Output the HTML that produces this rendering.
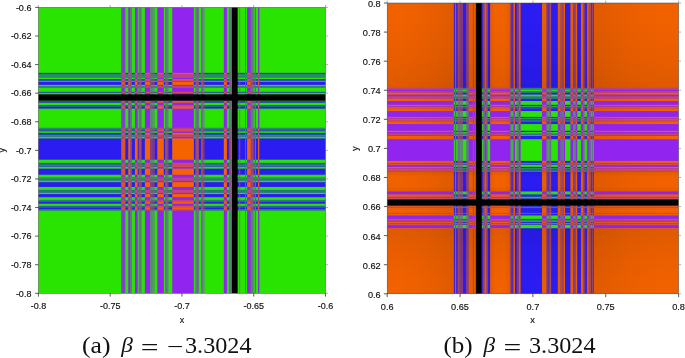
<!DOCTYPE html>
<html><head><meta charset="utf-8"><title>figure</title>
<style>html,body{margin:0;padding:0;background:#fff}body{width:685px;height:358px;overflow:hidden}svg{display:block}</style>
</head><body>
<svg width="685" height="358" viewBox="0 0 685 358">
<rect width="685" height="358" fill="#fff"/>
<g shape-rendering="crispEdges">
<g>
<rect x="38" y="7" width="83" height="287" fill="#28e400"/>
<rect x="121" y="7" width="1" height="287" fill="#7061a3"/>
<rect x="122" y="7" width="3" height="287" fill="#8241cc"/>
<rect x="125" y="7" width="1" height="287" fill="#43b33d"/>
<rect x="126" y="7" width="2" height="287" fill="#28e400"/>
<rect x="128" y="7" width="1" height="287" fill="#725ea8"/>
<rect x="129" y="7" width="1" height="287" fill="#9224f0"/>
<rect x="130" y="7" width="1" height="287" fill="#687190"/>
<rect x="131" y="7" width="1" height="287" fill="#617c82"/>
<rect x="132" y="7" width="2" height="287" fill="#28e400"/>
<rect x="134" y="7" width="1" height="287" fill="#33d118"/>
<rect x="135" y="7" width="2" height="287" fill="#9224f0"/>
<rect x="137" y="7" width="1" height="287" fill="#725ea8"/>
<rect x="138" y="7" width="1" height="287" fill="#3bc12b"/>
<rect x="139" y="7" width="2" height="287" fill="#687190"/>
<rect x="141" y="7" width="1" height="287" fill="#4e9f56"/>
<rect x="142" y="7" width="2" height="287" fill="#28e400"/>
<rect x="144" y="7" width="1" height="287" fill="#38c724"/>
<rect x="145" y="7" width="5" height="287" fill="#9224f0"/>
<rect x="150" y="7" width="1" height="287" fill="#588e6c"/>
<rect x="151" y="7" width="1" height="287" fill="#5d8478"/>
<rect x="152" y="7" width="1" height="287" fill="#539562"/>
<rect x="153" y="7" width="1" height="287" fill="#4da154"/>
<rect x="154" y="7" width="1" height="287" fill="#49a84c"/>
<rect x="155" y="7" width="2" height="287" fill="#28e400"/>
<rect x="157" y="7" width="1" height="287" fill="#725ea8"/>
<rect x="158" y="7" width="5" height="287" fill="#9224f0"/>
<rect x="163" y="7" width="1" height="287" fill="#8241cc"/>
<rect x="164" y="7" width="1" height="287" fill="#28e400"/>
<rect x="165" y="7" width="1" height="287" fill="#637886"/>
<rect x="166" y="7" width="1" height="287" fill="#6a6d95"/>
<rect x="167" y="7" width="1" height="287" fill="#5d8478"/>
<rect x="168" y="7" width="1" height="287" fill="#42b43c"/>
<rect x="169" y="7" width="3" height="287" fill="#28e400"/>
<rect x="172" y="7" width="1" height="287" fill="#7d4ac0"/>
<rect x="173" y="7" width="20" height="287" fill="#9224f0"/>
<rect x="193" y="7" width="1" height="287" fill="#8737d8"/>
<rect x="194" y="7" width="1" height="287" fill="#28e400"/>
<rect x="195" y="7" width="1" height="287" fill="#559365"/>
<rect x="196" y="7" width="1" height="287" fill="#687190"/>
<rect x="197" y="7" width="1" height="287" fill="#7160a6"/>
<rect x="198" y="7" width="1" height="287" fill="#617c82"/>
<rect x="199" y="7" width="2" height="287" fill="#28e400"/>
<rect x="201" y="7" width="2" height="287" fill="#687190"/>
<rect x="203" y="7" width="1" height="287" fill="#48aa48"/>
<rect x="204" y="7" width="1" height="287" fill="#41b63a"/>
<rect x="205" y="7" width="18" height="287" fill="#28e400"/>
<rect x="223" y="7" width="1" height="287" fill="#3dbe30"/>
<rect x="224" y="7" width="2" height="287" fill="#9224f0"/>
<rect x="226" y="7" width="1" height="287" fill="#8737d8"/>
<rect x="227" y="7" width="1" height="287" fill="#28e400"/>
<rect x="228" y="7" width="1" height="287" fill="#2ed90d"/>
<rect x="229" y="7" width="1" height="287" fill="#627a84"/>
<rect x="230" y="7" width="1" height="287" fill="#687190"/>
<rect x="231" y="7" width="1" height="287" fill="#7d4ac0"/>
<rect x="232" y="7" width="5" height="287" fill="#000000"/>
<rect x="237" y="7" width="1" height="287" fill="#0e5000"/>
<rect x="238" y="7" width="1" height="287" fill="#28e400"/>
<rect x="239" y="7" width="1" height="287" fill="#57906a"/>
<rect x="240" y="7" width="1" height="287" fill="#34cf1a"/>
<rect x="241" y="7" width="4" height="287" fill="#28e400"/>
<rect x="245" y="7" width="1" height="287" fill="#687190"/>
<rect x="246" y="7" width="1" height="287" fill="#28e400"/>
<rect x="247" y="7" width="1" height="287" fill="#8737d8"/>
<rect x="248" y="7" width="2" height="287" fill="#9224f0"/>
<rect x="250" y="7" width="1" height="287" fill="#7b4dbc"/>
<rect x="251" y="7" width="2" height="287" fill="#627a84"/>
<rect x="253" y="7" width="1" height="287" fill="#57906a"/>
<rect x="254" y="7" width="1" height="287" fill="#37c922"/>
<rect x="255" y="7" width="1" height="287" fill="#725ea8"/>
<rect x="256" y="7" width="2" height="287" fill="#28e400"/>
<rect x="258" y="7" width="1" height="287" fill="#8d2ee4"/>
<rect x="259" y="7" width="1" height="287" fill="#46ad44"/>
<rect x="260" y="7" width="66" height="287" fill="#28e400"/>
</g>
<mask id="m1" maskUnits="userSpaceOnUse" x="38" y="7" width="288" height="287">
<rect x="38" y="72" width="288" height="1" fill="#fff" fill-opacity="0.135"/>
<rect x="38" y="73" width="288" height="1" fill="#fff" fill-opacity="0.9"/>
<rect x="38" y="74" width="288" height="1" fill="#fff" fill-opacity="0.472"/>
<rect x="38" y="75" width="288" height="2" fill="#fff" fill-opacity="0.45"/>
<rect x="38" y="77" width="288" height="1" fill="#fff" fill-opacity="0.382"/>
<rect x="38" y="79" width="288" height="1" fill="#fff" fill-opacity="0.8"/>
<rect x="38" y="80" width="288" height="1" fill="#fff" fill-opacity="0.702"/>
<rect x="38" y="81" width="288" height="1" fill="#fff" fill-opacity="0.192"/>
<rect x="38" y="82" width="288" height="2" fill="#fff" fill-opacity="1.0"/>
<rect x="38" y="84" width="288" height="1" fill="#fff" fill-opacity="0.9"/>
<rect x="38" y="86" width="288" height="1" fill="#fff" fill-opacity="0.475"/>
<rect x="38" y="87" width="288" height="1" fill="#fff" fill-opacity="0.425"/>
<rect x="38" y="91" width="288" height="1" fill="#fff" fill-opacity="0.14"/>
<rect x="38" y="92" width="288" height="1" fill="#fff" fill-opacity="0.7"/>
<rect x="38" y="93" width="288" height="1" fill="#fff" fill-opacity="0.035"/>
<rect x="38" y="100" width="288" height="1" fill="#fff" fill-opacity="0.24"/>
<rect x="38" y="101" width="288" height="1" fill="#fff" fill-opacity="0.8"/>
<rect x="38" y="102" width="288" height="1" fill="#fff" fill-opacity="0.68"/>
<rect x="38" y="105" width="288" height="1" fill="#fff" fill-opacity="0.65"/>
<rect x="38" y="106" width="288" height="1" fill="#fff" fill-opacity="0.685"/>
<rect x="38" y="107" width="288" height="1" fill="#fff" fill-opacity="1.0"/>
<rect x="38" y="108" width="288" height="1" fill="#fff" fill-opacity="0.6"/>
<rect x="38" y="127" width="288" height="1" fill="#fff" fill-opacity="0.135"/>
<rect x="38" y="128" width="288" height="1" fill="#fff" fill-opacity="0.45"/>
<rect x="38" y="129" width="288" height="1" fill="#fff" fill-opacity="0.625"/>
<rect x="38" y="130" width="288" height="1" fill="#fff" fill-opacity="0.685"/>
<rect x="38" y="131" width="288" height="1" fill="#fff" fill-opacity="0.3"/>
<rect x="38" y="132" width="288" height="1" fill="#fff" fill-opacity="0.1"/>
<rect x="38" y="133" width="288" height="1" fill="#fff" fill-opacity="1.0"/>
<rect x="38" y="134" width="288" height="1" fill="#fff" fill-opacity="0.79"/>
<rect x="38" y="135" width="288" height="1" fill="#fff" fill-opacity="0.405"/>
<rect x="38" y="136" width="288" height="1" fill="#fff" fill-opacity="0.488"/>
<rect x="38" y="138" width="288" height="1" fill="#fff" fill-opacity="0.6"/>
<rect x="38" y="139" width="288" height="20" fill="#fff" fill-opacity="1.0"/>
<rect x="38" y="159" width="288" height="1" fill="#fff" fill-opacity="0.7"/>
<rect x="38" y="162" width="288" height="1" fill="#fff" fill-opacity="0.13"/>
<rect x="38" y="163" width="288" height="1" fill="#fff" fill-opacity="0.65"/>
<rect x="38" y="164" width="288" height="1" fill="#fff" fill-opacity="0.59"/>
<rect x="38" y="165" width="288" height="1" fill="#fff" fill-opacity="0.5"/>
<rect x="38" y="166" width="288" height="1" fill="#fff" fill-opacity="0.64"/>
<rect x="38" y="168" width="288" height="1" fill="#fff" fill-opacity="0.35"/>
<rect x="38" y="169" width="288" height="5" fill="#fff" fill-opacity="1.0"/>
<rect x="38" y="174" width="288" height="1" fill="#fff" fill-opacity="0.75"/>
<rect x="38" y="177" width="288" height="1" fill="#fff" fill-opacity="0.293"/>
<rect x="38" y="178" width="288" height="1" fill="#fff" fill-opacity="0.45"/>
<rect x="38" y="179" width="288" height="1" fill="#fff" fill-opacity="0.5"/>
<rect x="38" y="180" width="288" height="1" fill="#fff" fill-opacity="0.423"/>
<rect x="38" y="182" width="288" height="1" fill="#fff" fill-opacity="0.85"/>
<rect x="38" y="183" width="288" height="3" fill="#fff" fill-opacity="1.0"/>
<rect x="38" y="186" width="288" height="1" fill="#fff" fill-opacity="0.95"/>
<rect x="38" y="189" width="288" height="1" fill="#fff" fill-opacity="0.055"/>
<rect x="38" y="190" width="288" height="2" fill="#fff" fill-opacity="0.55"/>
<rect x="38" y="192" width="288" height="1" fill="#fff" fill-opacity="0.467"/>
<rect x="38" y="194" width="288" height="1" fill="#fff" fill-opacity="0.95"/>
<rect x="38" y="195" width="288" height="2" fill="#fff" fill-opacity="1.0"/>
<rect x="38" y="197" width="288" height="1" fill="#fff" fill-opacity="0.2"/>
<rect x="38" y="199" width="288" height="1" fill="#fff" fill-opacity="0.075"/>
<rect x="38" y="200" width="288" height="1" fill="#fff" fill-opacity="0.5"/>
<rect x="38" y="201" width="288" height="1" fill="#fff" fill-opacity="0.6"/>
<rect x="38" y="202" width="288" height="1" fill="#fff" fill-opacity="1.0"/>
<rect x="38" y="203" width="288" height="1" fill="#fff" fill-opacity="0.7"/>
<rect x="38" y="205" width="288" height="1" fill="#fff" fill-opacity="0.098"/>
<rect x="38" y="206" width="288" height="1" fill="#fff" fill-opacity="0.65"/>
<rect x="38" y="207" width="288" height="1" fill="#fff" fill-opacity="0.738"/>
<rect x="38" y="208" width="288" height="1" fill="#fff" fill-opacity="1.0"/>
<rect x="38" y="209" width="288" height="1" fill="#fff" fill-opacity="0.55"/>
<rect x="38" y="210" width="288" height="1" fill="#fff" fill-opacity="0.375"/>
</mask>
<g mask="url(#m1)">
<rect x="38" y="7" width="83" height="287" fill="#2b1cf2"/>
<rect x="121" y="7" width="1" height="287" fill="#b44c4d"/>
<rect x="122" y="7" width="3" height="287" fill="#d75824"/>
<rect x="125" y="7" width="1" height="287" fill="#5f2eb4"/>
<rect x="126" y="7" width="2" height="287" fill="#2b1cf2"/>
<rect x="128" y="7" width="1" height="287" fill="#b84e49"/>
<rect x="129" y="7" width="1" height="287" fill="#f56300"/>
<rect x="130" y="7" width="1" height="287" fill="#a44761"/>
<rect x="131" y="7" width="1" height="287" fill="#98426f"/>
<rect x="132" y="7" width="2" height="287" fill="#2b1cf2"/>
<rect x="134" y="7" width="1" height="287" fill="#3f23da"/>
<rect x="135" y="7" width="2" height="287" fill="#f56300"/>
<rect x="137" y="7" width="1" height="287" fill="#b84e49"/>
<rect x="138" y="7" width="1" height="287" fill="#4f29c6"/>
<rect x="139" y="7" width="2" height="287" fill="#a44761"/>
<rect x="141" y="7" width="1" height="287" fill="#74369b"/>
<rect x="142" y="7" width="2" height="287" fill="#2b1cf2"/>
<rect x="144" y="7" width="1" height="287" fill="#4927ce"/>
<rect x="145" y="7" width="5" height="287" fill="#f56300"/>
<rect x="150" y="7" width="1" height="287" fill="#863c85"/>
<rect x="151" y="7" width="1" height="287" fill="#904079"/>
<rect x="152" y="7" width="1" height="287" fill="#7e398f"/>
<rect x="153" y="7" width="1" height="287" fill="#72359d"/>
<rect x="154" y="7" width="1" height="287" fill="#6b32a6"/>
<rect x="155" y="7" width="2" height="287" fill="#2b1cf2"/>
<rect x="157" y="7" width="1" height="287" fill="#b84e49"/>
<rect x="158" y="7" width="5" height="287" fill="#f56300"/>
<rect x="163" y="7" width="1" height="287" fill="#d75824"/>
<rect x="164" y="7" width="1" height="287" fill="#2b1cf2"/>
<rect x="165" y="7" width="1" height="287" fill="#9c446a"/>
<rect x="166" y="7" width="1" height="287" fill="#a8485c"/>
<rect x="167" y="7" width="1" height="287" fill="#904079"/>
<rect x="168" y="7" width="1" height="287" fill="#5e2eb6"/>
<rect x="169" y="7" width="3" height="287" fill="#2b1cf2"/>
<rect x="172" y="7" width="1" height="287" fill="#cd5530"/>
<rect x="173" y="7" width="20" height="287" fill="#f56300"/>
<rect x="193" y="7" width="1" height="287" fill="#e15c18"/>
<rect x="194" y="7" width="1" height="287" fill="#2b1cf2"/>
<rect x="195" y="7" width="1" height="287" fill="#803a8c"/>
<rect x="196" y="7" width="1" height="287" fill="#a44761"/>
<rect x="197" y="7" width="1" height="287" fill="#b64d4b"/>
<rect x="198" y="7" width="1" height="287" fill="#98426f"/>
<rect x="199" y="7" width="2" height="287" fill="#2b1cf2"/>
<rect x="201" y="7" width="2" height="287" fill="#a44761"/>
<rect x="203" y="7" width="1" height="287" fill="#6831a9"/>
<rect x="204" y="7" width="1" height="287" fill="#5b2db8"/>
<rect x="205" y="7" width="18" height="287" fill="#2b1cf2"/>
<rect x="223" y="7" width="1" height="287" fill="#532ac2"/>
<rect x="224" y="7" width="2" height="287" fill="#f56300"/>
<rect x="226" y="7" width="1" height="287" fill="#e15c18"/>
<rect x="227" y="7" width="1" height="287" fill="#2b1cf2"/>
<rect x="228" y="7" width="1" height="287" fill="#3620e5"/>
<rect x="229" y="7" width="1" height="287" fill="#9a436d"/>
<rect x="230" y="7" width="1" height="287" fill="#a44761"/>
<rect x="231" y="7" width="1" height="287" fill="#cd5530"/>
<rect x="232" y="7" width="5" height="287" fill="#000000"/>
<rect x="237" y="7" width="1" height="287" fill="#0f0a55"/>
<rect x="238" y="7" width="1" height="287" fill="#2b1cf2"/>
<rect x="239" y="7" width="1" height="287" fill="#843b88"/>
<rect x="240" y="7" width="1" height="287" fill="#4124d7"/>
<rect x="241" y="7" width="4" height="287" fill="#2b1cf2"/>
<rect x="245" y="7" width="1" height="287" fill="#a44761"/>
<rect x="246" y="7" width="1" height="287" fill="#2b1cf2"/>
<rect x="247" y="7" width="1" height="287" fill="#e15c18"/>
<rect x="248" y="7" width="2" height="287" fill="#f56300"/>
<rect x="250" y="7" width="1" height="287" fill="#ca5434"/>
<rect x="251" y="7" width="2" height="287" fill="#9a436d"/>
<rect x="253" y="7" width="1" height="287" fill="#843b88"/>
<rect x="254" y="7" width="1" height="287" fill="#4726d0"/>
<rect x="255" y="7" width="1" height="287" fill="#b84e49"/>
<rect x="256" y="7" width="2" height="287" fill="#2b1cf2"/>
<rect x="258" y="7" width="1" height="287" fill="#eb5f0c"/>
<rect x="259" y="7" width="1" height="287" fill="#6530ad"/>
<rect x="260" y="7" width="66" height="287" fill="#2b1cf2"/>
</g>
<rect x="38" y="94" width="288" height="1" fill="#000" fill-opacity="0.65"/>
<rect x="38" y="95" width="288" height="5" fill="#000" fill-opacity="1.0"/>
<rect x="38" y="100" width="288" height="1" fill="#000" fill-opacity="0.65"/>
<rect x="38" y="7" width="1" height="287" fill="#fff" fill-opacity="0.4"/>
<rect x="325" y="7" width="1" height="287" fill="#fff" fill-opacity="0.5"/>
<rect x="38" y="7" width="288" height="1" fill="#fff" fill-opacity="0.4"/>
<rect x="38" y="293" width="288" height="1" fill="#fff" fill-opacity="0.7"/>
</g>
<g stroke="#222" stroke-width="0.75" fill="none">
<rect x="38.4" y="7.4" width="287.10" height="285.90" stroke="#444" stroke-width="0.5"/>
<path d="M38.40 293.3v3.3"/><path d="M38.40 7.4v-2.4" stroke="#777" stroke-width="0.6"/>
<path d="M110.18 293.3v3.3"/><path d="M110.18 7.4v-2.4" stroke="#777" stroke-width="0.6"/>
<path d="M181.95 293.3v3.3"/><path d="M181.95 7.4v-2.4" stroke="#777" stroke-width="0.6"/>
<path d="M253.72 293.3v3.3"/><path d="M253.72 7.4v-2.4" stroke="#777" stroke-width="0.6"/>
<path d="M325.50 293.3v3.3"/><path d="M325.50 7.4v-2.4" stroke="#777" stroke-width="0.6"/>
<path d="M38.4 7.40h-3.3"/><path d="M325.5 7.40h2.4" stroke="#777" stroke-width="0.6"/>
<path d="M38.4 35.99h-3.3"/><path d="M325.5 35.99h2.4" stroke="#777" stroke-width="0.6"/>
<path d="M38.4 64.58h-3.3"/><path d="M325.5 64.58h2.4" stroke="#777" stroke-width="0.6"/>
<path d="M38.4 93.17h-3.3"/><path d="M325.5 93.17h2.4" stroke="#777" stroke-width="0.6"/>
<path d="M38.4 121.76h-3.3"/><path d="M325.5 121.76h2.4" stroke="#777" stroke-width="0.6"/>
<path d="M38.4 150.35h-3.3"/><path d="M325.5 150.35h2.4" stroke="#777" stroke-width="0.6"/>
<path d="M38.4 178.94h-3.3"/><path d="M325.5 178.94h2.4" stroke="#777" stroke-width="0.6"/>
<path d="M38.4 207.53h-3.3"/><path d="M325.5 207.53h2.4" stroke="#777" stroke-width="0.6"/>
<path d="M38.4 236.12h-3.3"/><path d="M325.5 236.12h2.4" stroke="#777" stroke-width="0.6"/>
<path d="M38.4 264.71h-3.3"/><path d="M325.5 264.71h2.4" stroke="#777" stroke-width="0.6"/>
<path d="M38.4 293.30h-3.3"/><path d="M325.5 293.30h2.4" stroke="#777" stroke-width="0.6"/>
</g>
<g style="font-family:&quot;Liberation Sans&quot;,Arial,Helvetica,sans-serif" font-size="9.0" fill="#111" stroke="#111" stroke-width="0.15">
<text x="38.40" y="309.1" text-anchor="middle">-0.8</text>
<text x="110.18" y="309.1" text-anchor="middle">-0.75</text>
<text x="181.95" y="309.1" text-anchor="middle">-0.7</text>
<text x="253.72" y="309.1" text-anchor="middle">-0.65</text>
<text x="325.50" y="309.1" text-anchor="middle">-0.6</text>
<text x="31.4" y="10.62" text-anchor="end">-0.6</text>
<text x="31.4" y="39.21" text-anchor="end">-0.62</text>
<text x="31.4" y="67.80" text-anchor="end">-0.64</text>
<text x="31.4" y="96.39" text-anchor="end">-0.66</text>
<text x="31.4" y="124.98" text-anchor="end">-0.68</text>
<text x="31.4" y="153.57" text-anchor="end">-0.7</text>
<text x="31.4" y="182.16" text-anchor="end">-0.72</text>
<text x="31.4" y="210.75" text-anchor="end">-0.74</text>
<text x="31.4" y="239.34" text-anchor="end">-0.76</text>
<text x="31.4" y="267.93" text-anchor="end">-0.78</text>
<text x="31.4" y="296.52" text-anchor="end">-0.8</text>
<text x="182" y="322.9" text-anchor="middle">x</text>
<text transform="translate(5.4,150.3) rotate(-90)" text-anchor="middle">y</text>
</g>
<g shape-rendering="crispEdges">
<g>
<rect x="387" y="3" width="11" height="291" fill="#f16100"/>
<rect x="398" y="3" width="7" height="291" fill="#f06100"/>
<rect x="405" y="3" width="1" height="291" fill="#f06000"/>
<rect x="406" y="3" width="6" height="291" fill="#ef6000"/>
<rect x="412" y="3" width="5" height="291" fill="#ee6000"/>
<rect x="417" y="3" width="3" height="291" fill="#ed5f00"/>
<rect x="420" y="3" width="4" height="291" fill="#ec5f00"/>
<rect x="424" y="3" width="2" height="291" fill="#eb5f00"/>
<rect x="426" y="3" width="1" height="291" fill="#eb5e00"/>
<rect x="427" y="3" width="3" height="291" fill="#ea5e00"/>
<rect x="430" y="3" width="3" height="291" fill="#e95e00"/>
<rect x="433" y="3" width="2" height="291" fill="#e85d00"/>
<rect x="435" y="3" width="3" height="291" fill="#e75d00"/>
<rect x="438" y="3" width="2" height="291" fill="#e65d00"/>
<rect x="440" y="3" width="3" height="291" fill="#e55c00"/>
<rect x="443" y="3" width="2" height="291" fill="#e45c00"/>
<rect x="445" y="3" width="2" height="291" fill="#e35b00"/>
<rect x="447" y="3" width="2" height="291" fill="#e25b00"/>
<rect x="449" y="3" width="1" height="291" fill="#e15b00"/>
<rect x="450" y="3" width="1" height="291" fill="#e15a00"/>
<rect x="451" y="3" width="2" height="291" fill="#e05a00"/>
<rect x="453" y="3" width="1" height="291" fill="#c45124"/>
<rect x="454" y="3" width="1" height="291" fill="#3e23da"/>
<rect x="455" y="3" width="1" height="291" fill="#c95327"/>
<rect x="456" y="3" width="1" height="291" fill="#5129c2"/>
<rect x="457" y="3" width="1" height="291" fill="#622fac"/>
<rect x="458" y="3" width="1" height="291" fill="#a54655"/>
<rect x="459" y="3" width="1" height="291" fill="#964168"/>
<rect x="460" y="3" width="2" height="291" fill="#803985"/>
<rect x="462" y="3" width="1" height="291" fill="#823a83"/>
<rect x="463" y="3" width="3" height="291" fill="#2b1cf2"/>
<rect x="466" y="3" width="1" height="291" fill="#863c7d"/>
<rect x="467" y="3" width="1" height="291" fill="#93406d"/>
<rect x="468" y="3" width="1" height="291" fill="#a44657"/>
<rect x="469" y="3" width="3" height="291" fill="#e75d00"/>
<rect x="472" y="3" width="1" height="291" fill="#e05b0a"/>
<rect x="473" y="3" width="1" height="291" fill="#a44657"/>
<rect x="474" y="3" width="1" height="291" fill="#e75d00"/>
<rect x="475" y="3" width="1" height="291" fill="#ba4d3a"/>
<rect x="476" y="3" width="1" height="291" fill="#160901"/>
<rect x="477" y="3" width="4" height="291" fill="#000000"/>
<rect x="481" y="3" width="1" height="291" fill="#32150a"/>
<rect x="482" y="3" width="1" height="291" fill="#4726ce"/>
<rect x="483" y="3" width="1" height="291" fill="#8b3d77"/>
<rect x="484" y="3" width="1" height="291" fill="#ab484d"/>
<rect x="485" y="3" width="1" height="291" fill="#e75d00"/>
<rect x="486" y="3" width="1" height="291" fill="#ac494c"/>
<rect x="487" y="3" width="1" height="291" fill="#863c7d"/>
<rect x="488" y="3" width="2" height="291" fill="#2b1cf2"/>
<rect x="490" y="3" width="1" height="291" fill="#d15518"/>
<rect x="491" y="3" width="1" height="291" fill="#e75d00"/>
<rect x="492" y="3" width="1" height="291" fill="#ea5e00"/>
<rect x="493" y="3" width="1" height="291" fill="#ed5f00"/>
<rect x="494" y="3" width="1" height="291" fill="#ef6000"/>
<rect x="495" y="3" width="10" height="291" fill="#f16100"/>
<rect x="505" y="3" width="1" height="291" fill="#ef6000"/>
<rect x="506" y="3" width="1" height="291" fill="#ed5f00"/>
<rect x="507" y="3" width="1" height="291" fill="#eb5e00"/>
<rect x="508" y="3" width="1" height="291" fill="#e85d00"/>
<rect x="509" y="3" width="1" height="291" fill="#e45c00"/>
<rect x="510" y="3" width="1" height="291" fill="#9c4361"/>
<rect x="511" y="3" width="1" height="291" fill="#6731a5"/>
<rect x="512" y="3" width="1" height="291" fill="#5a2cb6"/>
<rect x="513" y="3" width="1" height="291" fill="#a1455b"/>
<rect x="514" y="3" width="1" height="291" fill="#e75d00"/>
<rect x="515" y="3" width="1" height="291" fill="#2b1cf2"/>
<rect x="516" y="3" width="1" height="291" fill="#4625cf"/>
<rect x="517" y="3" width="1" height="291" fill="#803985"/>
<rect x="518" y="3" width="1" height="291" fill="#8a3d78"/>
<rect x="519" y="3" width="1" height="291" fill="#e75d00"/>
<rect x="520" y="3" width="1" height="291" fill="#9c4361"/>
<rect x="521" y="3" width="21" height="291" fill="#2b1cf2"/>
<rect x="542" y="3" width="4" height="291" fill="#e75d00"/>
<rect x="546" y="3" width="1" height="291" fill="#a44657"/>
<rect x="547" y="3" width="1" height="291" fill="#743594"/>
<rect x="548" y="3" width="1" height="291" fill="#6430a9"/>
<rect x="549" y="3" width="1" height="291" fill="#7e3988"/>
<rect x="550" y="3" width="1" height="291" fill="#ac494c"/>
<rect x="551" y="3" width="1" height="291" fill="#3e23da"/>
<rect x="552" y="3" width="5" height="291" fill="#2b1cf2"/>
<rect x="557" y="3" width="1" height="291" fill="#5129c2"/>
<rect x="558" y="3" width="2" height="291" fill="#e75d00"/>
<rect x="560" y="3" width="1" height="291" fill="#b54c41"/>
<rect x="561" y="3" width="1" height="291" fill="#af4a49"/>
<rect x="562" y="3" width="1" height="291" fill="#9e445e"/>
<rect x="563" y="3" width="1" height="291" fill="#a44657"/>
<rect x="564" y="3" width="1" height="291" fill="#e75d00"/>
<rect x="565" y="3" width="5" height="291" fill="#2b1cf2"/>
<rect x="570" y="3" width="1" height="291" fill="#9c4361"/>
<rect x="571" y="3" width="2" height="291" fill="#e75d00"/>
<rect x="573" y="3" width="2" height="291" fill="#893d79"/>
<rect x="575" y="3" width="1" height="291" fill="#9c4361"/>
<rect x="576" y="3" width="1" height="291" fill="#e75d00"/>
<rect x="577" y="3" width="1" height="291" fill="#5129c2"/>
<rect x="578" y="3" width="2" height="291" fill="#2b1cf2"/>
<rect x="580" y="3" width="1" height="291" fill="#3e23da"/>
<rect x="581" y="3" width="2" height="291" fill="#e75d00"/>
<rect x="583" y="3" width="1" height="291" fill="#9c4361"/>
<rect x="584" y="3" width="1" height="291" fill="#733596"/>
<rect x="585" y="3" width="2" height="291" fill="#3e23da"/>
<rect x="587" y="3" width="1" height="291" fill="#d85813"/>
<rect x="588" y="3" width="1" height="291" fill="#d55718"/>
<rect x="589" y="3" width="1" height="291" fill="#ac494c"/>
<rect x="590" y="3" width="1" height="291" fill="#a44657"/>
<rect x="591" y="3" width="1" height="291" fill="#582cb8"/>
<rect x="592" y="3" width="1" height="291" fill="#964168"/>
<rect x="593" y="3" width="1" height="291" fill="#6430a9"/>
<rect x="594" y="3" width="1" height="291" fill="#df5a00"/>
<rect x="595" y="3" width="3" height="291" fill="#e05a00"/>
<rect x="598" y="3" width="1" height="291" fill="#e15a00"/>
<rect x="599" y="3" width="1" height="291" fill="#e15b00"/>
<rect x="600" y="3" width="3" height="291" fill="#e25b00"/>
<rect x="603" y="3" width="2" height="291" fill="#e35b00"/>
<rect x="605" y="3" width="3" height="291" fill="#e45c00"/>
<rect x="608" y="3" width="3" height="291" fill="#e55c00"/>
<rect x="611" y="3" width="1" height="291" fill="#e65c00"/>
<rect x="612" y="3" width="2" height="291" fill="#e65d00"/>
<rect x="614" y="3" width="3" height="291" fill="#e75d00"/>
<rect x="617" y="3" width="3" height="291" fill="#e85d00"/>
<rect x="620" y="3" width="1" height="291" fill="#e85e00"/>
<rect x="621" y="3" width="3" height="291" fill="#e95e00"/>
<rect x="624" y="3" width="4" height="291" fill="#ea5e00"/>
<rect x="628" y="3" width="1" height="291" fill="#eb5e00"/>
<rect x="629" y="3" width="3" height="291" fill="#eb5f00"/>
<rect x="632" y="3" width="4" height="291" fill="#ec5f00"/>
<rect x="636" y="3" width="4" height="291" fill="#ed5f00"/>
<rect x="640" y="3" width="1" height="291" fill="#ed6000"/>
<rect x="641" y="3" width="6" height="291" fill="#ee6000"/>
<rect x="647" y="3" width="7" height="291" fill="#ef6000"/>
<rect x="654" y="3" width="2" height="291" fill="#f06000"/>
<rect x="656" y="3" width="9" height="291" fill="#f06100"/>
<rect x="665" y="3" width="14" height="291" fill="#f16100"/>
</g>
<mask id="m2" maskUnits="userSpaceOnUse" x="387" y="3" width="292" height="291">
<rect x="387" y="87" width="292" height="1" fill="#fff" fill-opacity="0.1"/>
<rect x="387" y="88" width="292" height="1" fill="#fff" fill-opacity="0.5"/>
<rect x="387" y="89" width="292" height="1" fill="#fff" fill-opacity="0.6"/>
<rect x="387" y="90" width="292" height="1" fill="#fff" fill-opacity="1.0"/>
<rect x="387" y="91" width="292" height="1" fill="#fff" fill-opacity="0.55"/>
<rect x="387" y="92" width="292" height="1" fill="#fff" fill-opacity="0.4"/>
<rect x="387" y="94" width="292" height="1" fill="#fff" fill-opacity="0.4"/>
<rect x="387" y="95" width="292" height="1" fill="#fff" fill-opacity="1.0"/>
<rect x="387" y="96" width="292" height="1" fill="#fff" fill-opacity="0.655"/>
<rect x="387" y="97" width="292" height="1" fill="#fff" fill-opacity="0.47"/>
<rect x="387" y="98" width="292" height="1" fill="#fff" fill-opacity="0.447"/>
<rect x="387" y="101" width="292" height="3" fill="#fff" fill-opacity="1.0"/>
<rect x="387" y="104" width="292" height="1" fill="#fff" fill-opacity="0.85"/>
<rect x="387" y="106" width="292" height="1" fill="#fff" fill-opacity="0.7"/>
<rect x="387" y="107" width="292" height="1" fill="#fff" fill-opacity="0.25"/>
<rect x="387" y="108" width="292" height="1" fill="#fff" fill-opacity="0.2"/>
<rect x="387" y="109" width="292" height="1" fill="#fff" fill-opacity="0.04"/>
<rect x="387" y="111" width="292" height="1" fill="#fff" fill-opacity="0.95"/>
<rect x="387" y="112" width="292" height="4" fill="#fff" fill-opacity="1.0"/>
<rect x="387" y="116" width="292" height="1" fill="#fff" fill-opacity="0.9"/>
<rect x="387" y="117" width="292" height="1" fill="#fff" fill-opacity="0.032"/>
<rect x="387" y="118" width="292" height="1" fill="#fff" fill-opacity="0.65"/>
<rect x="387" y="119" width="292" height="1" fill="#fff" fill-opacity="0.25"/>
<rect x="387" y="120" width="292" height="1" fill="#fff" fill-opacity="0.39"/>
<rect x="387" y="121" width="292" height="1" fill="#fff" fill-opacity="0.338"/>
<rect x="387" y="124" width="292" height="1" fill="#fff" fill-opacity="0.95"/>
<rect x="387" y="125" width="292" height="5" fill="#fff" fill-opacity="1.0"/>
<rect x="387" y="130" width="292" height="1" fill="#fff" fill-opacity="0.8"/>
<rect x="387" y="132" width="292" height="1" fill="#fff" fill-opacity="0.902"/>
<rect x="387" y="133" width="292" height="1" fill="#fff" fill-opacity="0.7"/>
<rect x="387" y="134" width="292" height="1" fill="#fff" fill-opacity="0.47"/>
<rect x="387" y="135" width="292" height="1" fill="#fff" fill-opacity="0.807"/>
<rect x="387" y="139" width="292" height="1" fill="#fff" fill-opacity="0.8"/>
<rect x="387" y="140" width="292" height="20" fill="#fff" fill-opacity="1.0"/>
<rect x="387" y="160" width="292" height="1" fill="#fff" fill-opacity="0.9"/>
<rect x="387" y="162" width="292" height="1" fill="#fff" fill-opacity="0.07"/>
<rect x="387" y="163" width="292" height="1" fill="#fff" fill-opacity="0.655"/>
<rect x="387" y="164" width="292" height="1" fill="#fff" fill-opacity="0.325"/>
<rect x="387" y="165" width="292" height="1" fill="#fff" fill-opacity="1.0"/>
<rect x="387" y="166" width="292" height="1" fill="#fff" fill-opacity="0.9"/>
<rect x="387" y="168" width="292" height="1" fill="#fff" fill-opacity="0.54"/>
<rect x="387" y="169" width="292" height="1" fill="#fff" fill-opacity="0.315"/>
<rect x="387" y="170" width="292" height="1" fill="#fff" fill-opacity="0.405"/>
<rect x="387" y="171" width="292" height="1" fill="#fff" fill-opacity="0.52"/>
<rect x="387" y="191" width="292" height="1" fill="#fff" fill-opacity="0.55"/>
<rect x="387" y="192" width="292" height="1" fill="#fff" fill-opacity="1.0"/>
<rect x="387" y="193" width="292" height="1" fill="#fff" fill-opacity="0.97"/>
<rect x="387" y="194" width="292" height="1" fill="#fff" fill-opacity="0.4"/>
<rect x="387" y="195" width="292" height="1" fill="#fff" fill-opacity="0.08"/>
<rect x="387" y="196" width="292" height="1" fill="#fff" fill-opacity="0.2"/>
<rect x="387" y="197" width="292" height="1" fill="#fff" fill-opacity="0.8"/>
<rect x="387" y="198" width="292" height="1" fill="#fff" fill-opacity="0.35"/>
<rect x="387" y="199" width="292" height="1" fill="#fff" fill-opacity="0.06"/>
<rect x="387" y="206" width="292" height="1" fill="#fff" fill-opacity="0.15"/>
<rect x="387" y="207" width="292" height="1" fill="#fff" fill-opacity="0.5"/>
<rect x="387" y="208" width="292" height="1" fill="#fff" fill-opacity="0.05"/>
<rect x="387" y="212" width="292" height="1" fill="#fff" fill-opacity="0.045"/>
<rect x="387" y="213" width="292" height="1" fill="#fff" fill-opacity="0.45"/>
<rect x="387" y="215" width="292" height="1" fill="#fff" fill-opacity="0.55"/>
<rect x="387" y="216" width="292" height="2" fill="#fff" fill-opacity="1.0"/>
<rect x="387" y="218" width="292" height="1" fill="#fff" fill-opacity="0.93"/>
<rect x="387" y="219" width="292" height="1" fill="#fff" fill-opacity="0.3"/>
<rect x="387" y="220" width="292" height="1" fill="#fff" fill-opacity="0.58"/>
<rect x="387" y="221" width="292" height="1" fill="#fff" fill-opacity="0.665"/>
<rect x="387" y="222" width="292" height="1" fill="#fff" fill-opacity="0.07"/>
<rect x="387" y="223" width="292" height="1" fill="#fff" fill-opacity="0.68"/>
<rect x="387" y="224" width="292" height="1" fill="#fff" fill-opacity="0.3"/>
<rect x="387" y="225" width="292" height="1" fill="#fff" fill-opacity="0.965"/>
<rect x="387" y="226" width="292" height="2" fill="#fff" fill-opacity="1.0"/>
<rect x="387" y="228" width="292" height="1" fill="#fff" fill-opacity="0.2"/>
</mask>
<g mask="url(#m2)">
<rect x="387" y="3" width="66" height="291" fill="#9224f0"/>
<rect x="453" y="3" width="1" height="291" fill="#8241cc"/>
<rect x="454" y="3" width="1" height="291" fill="#33d118"/>
<rect x="455" y="3" width="1" height="291" fill="#8143ca"/>
<rect x="456" y="3" width="1" height="291" fill="#3dbe30"/>
<rect x="457" y="3" width="1" height="291" fill="#47ac46"/>
<rect x="458" y="3" width="1" height="291" fill="#6d679c"/>
<rect x="459" y="3" width="1" height="291" fill="#647789"/>
<rect x="460" y="3" width="2" height="291" fill="#588e6c"/>
<rect x="462" y="3" width="1" height="291" fill="#598c6e"/>
<rect x="463" y="3" width="3" height="291" fill="#28e400"/>
<rect x="466" y="3" width="1" height="291" fill="#5b8774"/>
<rect x="467" y="3" width="1" height="291" fill="#627a84"/>
<rect x="468" y="3" width="1" height="291" fill="#6c699a"/>
<rect x="469" y="3" width="3" height="291" fill="#9224f0"/>
<rect x="472" y="3" width="1" height="291" fill="#8e2ce6"/>
<rect x="473" y="3" width="1" height="291" fill="#6c699a"/>
<rect x="474" y="3" width="1" height="291" fill="#9224f0"/>
<rect x="475" y="3" width="1" height="291" fill="#7952b6"/>
<rect x="476" y="3" width="1" height="291" fill="#0e0417"/>
<rect x="477" y="3" width="4" height="291" fill="#000000"/>
<rect x="481" y="3" width="1" height="291" fill="#201132"/>
<rect x="482" y="3" width="1" height="291" fill="#38c724"/>
<rect x="483" y="3" width="1" height="291" fill="#5e827a"/>
<rect x="484" y="3" width="1" height="291" fill="#7061a3"/>
<rect x="485" y="3" width="1" height="291" fill="#9224f0"/>
<rect x="486" y="3" width="1" height="291" fill="#7160a4"/>
<rect x="487" y="3" width="1" height="291" fill="#5b8774"/>
<rect x="488" y="3" width="2" height="291" fill="#28e400"/>
<rect x="490" y="3" width="1" height="291" fill="#8737d8"/>
<rect x="491" y="3" width="19" height="291" fill="#9224f0"/>
<rect x="510" y="3" width="1" height="291" fill="#687190"/>
<rect x="511" y="3" width="1" height="291" fill="#4aa74d"/>
<rect x="512" y="3" width="1" height="291" fill="#42b43c"/>
<rect x="513" y="3" width="1" height="291" fill="#6a6c96"/>
<rect x="514" y="3" width="1" height="291" fill="#9224f0"/>
<rect x="515" y="3" width="1" height="291" fill="#28e400"/>
<rect x="516" y="3" width="1" height="291" fill="#37c823"/>
<rect x="517" y="3" width="1" height="291" fill="#588e6c"/>
<rect x="518" y="3" width="1" height="291" fill="#5e8379"/>
<rect x="519" y="3" width="1" height="291" fill="#9224f0"/>
<rect x="520" y="3" width="1" height="291" fill="#687190"/>
<rect x="521" y="3" width="21" height="291" fill="#28e400"/>
<rect x="542" y="3" width="4" height="291" fill="#9224f0"/>
<rect x="546" y="3" width="1" height="291" fill="#6c699a"/>
<rect x="547" y="3" width="1" height="291" fill="#51995e"/>
<rect x="548" y="3" width="1" height="291" fill="#48aa48"/>
<rect x="549" y="3" width="1" height="291" fill="#57906a"/>
<rect x="550" y="3" width="1" height="291" fill="#7160a4"/>
<rect x="551" y="3" width="1" height="291" fill="#33d118"/>
<rect x="552" y="3" width="5" height="291" fill="#28e400"/>
<rect x="557" y="3" width="1" height="291" fill="#3dbe30"/>
<rect x="558" y="3" width="2" height="291" fill="#9224f0"/>
<rect x="560" y="3" width="1" height="291" fill="#7558af"/>
<rect x="561" y="3" width="1" height="291" fill="#725ea8"/>
<rect x="562" y="3" width="1" height="291" fill="#696f92"/>
<rect x="563" y="3" width="1" height="291" fill="#6c699a"/>
<rect x="564" y="3" width="1" height="291" fill="#9224f0"/>
<rect x="565" y="3" width="5" height="291" fill="#28e400"/>
<rect x="570" y="3" width="1" height="291" fill="#687190"/>
<rect x="571" y="3" width="2" height="291" fill="#9224f0"/>
<rect x="573" y="3" width="2" height="291" fill="#5d8478"/>
<rect x="575" y="3" width="1" height="291" fill="#687190"/>
<rect x="576" y="3" width="1" height="291" fill="#9224f0"/>
<rect x="577" y="3" width="1" height="291" fill="#3dbe30"/>
<rect x="578" y="3" width="2" height="291" fill="#28e400"/>
<rect x="580" y="3" width="1" height="291" fill="#33d118"/>
<rect x="581" y="3" width="2" height="291" fill="#9224f0"/>
<rect x="583" y="3" width="1" height="291" fill="#687190"/>
<rect x="584" y="3" width="1" height="291" fill="#509b5b"/>
<rect x="585" y="3" width="2" height="291" fill="#33d118"/>
<rect x="587" y="3" width="1" height="291" fill="#8a33dd"/>
<rect x="588" y="3" width="1" height="291" fill="#8737d8"/>
<rect x="589" y="3" width="1" height="291" fill="#7160a4"/>
<rect x="590" y="3" width="1" height="291" fill="#6c699a"/>
<rect x="591" y="3" width="1" height="291" fill="#41b63a"/>
<rect x="592" y="3" width="1" height="291" fill="#647789"/>
<rect x="593" y="3" width="1" height="291" fill="#48aa48"/>
<rect x="594" y="3" width="85" height="291" fill="#9224f0"/>
</g>
<rect x="387" y="24" width="292" height="2" fill="#000" fill-opacity="0.005"/>
<rect x="387" y="26" width="292" height="2" fill="#000" fill-opacity="0.006"/>
<rect x="387" y="28" width="292" height="2" fill="#000" fill-opacity="0.007"/>
<rect x="387" y="30" width="292" height="2" fill="#000" fill-opacity="0.008"/>
<rect x="387" y="32" width="292" height="1" fill="#000" fill-opacity="0.009"/>
<rect x="387" y="33" width="292" height="2" fill="#000" fill-opacity="0.01"/>
<rect x="387" y="35" width="292" height="1" fill="#000" fill-opacity="0.011"/>
<rect x="387" y="36" width="292" height="2" fill="#000" fill-opacity="0.012"/>
<rect x="387" y="38" width="292" height="1" fill="#000" fill-opacity="0.013"/>
<rect x="387" y="39" width="292" height="1" fill="#000" fill-opacity="0.014"/>
<rect x="387" y="40" width="292" height="2" fill="#000" fill-opacity="0.015"/>
<rect x="387" y="42" width="292" height="1" fill="#000" fill-opacity="0.016"/>
<rect x="387" y="43" width="292" height="1" fill="#000" fill-opacity="0.017"/>
<rect x="387" y="44" width="292" height="1" fill="#000" fill-opacity="0.018"/>
<rect x="387" y="45" width="292" height="1" fill="#000" fill-opacity="0.019"/>
<rect x="387" y="46" width="292" height="1" fill="#000" fill-opacity="0.02"/>
<rect x="387" y="47" width="292" height="1" fill="#000" fill-opacity="0.021"/>
<rect x="387" y="48" width="292" height="1" fill="#000" fill-opacity="0.022"/>
<rect x="387" y="49" width="292" height="1" fill="#000" fill-opacity="0.023"/>
<rect x="387" y="50" width="292" height="1" fill="#000" fill-opacity="0.024"/>
<rect x="387" y="51" width="292" height="1" fill="#000" fill-opacity="0.025"/>
<rect x="387" y="52" width="292" height="1" fill="#000" fill-opacity="0.026"/>
<rect x="387" y="53" width="292" height="1" fill="#000" fill-opacity="0.027"/>
<rect x="387" y="54" width="292" height="1" fill="#000" fill-opacity="0.028"/>
<rect x="387" y="55" width="292" height="1" fill="#000" fill-opacity="0.029"/>
<rect x="387" y="56" width="292" height="1" fill="#000" fill-opacity="0.03"/>
<rect x="387" y="57" width="292" height="1" fill="#000" fill-opacity="0.031"/>
<rect x="387" y="58" width="292" height="1" fill="#000" fill-opacity="0.032"/>
<rect x="387" y="59" width="292" height="1" fill="#000" fill-opacity="0.033"/>
<rect x="387" y="60" width="292" height="1" fill="#000" fill-opacity="0.034"/>
<rect x="387" y="61" width="292" height="1" fill="#000" fill-opacity="0.036"/>
<rect x="387" y="62" width="292" height="1" fill="#000" fill-opacity="0.037"/>
<rect x="387" y="63" width="292" height="1" fill="#000" fill-opacity="0.038"/>
<rect x="387" y="64" width="292" height="1" fill="#000" fill-opacity="0.039"/>
<rect x="387" y="65" width="292" height="1" fill="#000" fill-opacity="0.041"/>
<rect x="387" y="66" width="292" height="1" fill="#000" fill-opacity="0.042"/>
<rect x="387" y="67" width="292" height="1" fill="#000" fill-opacity="0.043"/>
<rect x="387" y="68" width="292" height="1" fill="#000" fill-opacity="0.045"/>
<rect x="387" y="69" width="292" height="1" fill="#000" fill-opacity="0.046"/>
<rect x="387" y="70" width="292" height="1" fill="#000" fill-opacity="0.048"/>
<rect x="387" y="71" width="292" height="1" fill="#000" fill-opacity="0.049"/>
<rect x="387" y="72" width="292" height="1" fill="#000" fill-opacity="0.05"/>
<rect x="387" y="73" width="292" height="1" fill="#000" fill-opacity="0.052"/>
<rect x="387" y="74" width="292" height="1" fill="#000" fill-opacity="0.053"/>
<rect x="387" y="75" width="292" height="1" fill="#000" fill-opacity="0.055"/>
<rect x="387" y="76" width="292" height="1" fill="#000" fill-opacity="0.056"/>
<rect x="387" y="77" width="292" height="1" fill="#000" fill-opacity="0.058"/>
<rect x="387" y="78" width="292" height="1" fill="#000" fill-opacity="0.059"/>
<rect x="387" y="79" width="292" height="1" fill="#000" fill-opacity="0.061"/>
<rect x="387" y="80" width="292" height="1" fill="#000" fill-opacity="0.063"/>
<rect x="387" y="81" width="292" height="1" fill="#000" fill-opacity="0.064"/>
<rect x="387" y="82" width="292" height="1" fill="#000" fill-opacity="0.066"/>
<rect x="387" y="83" width="292" height="1" fill="#000" fill-opacity="0.068"/>
<rect x="387" y="84" width="292" height="1" fill="#000" fill-opacity="0.069"/>
<rect x="387" y="85" width="292" height="1" fill="#000" fill-opacity="0.071"/>
<rect x="387" y="86" width="292" height="1" fill="#000" fill-opacity="0.073"/>
<rect x="387" y="87" width="292" height="1" fill="#000" fill-opacity="0.067"/>
<rect x="387" y="172" width="292" height="1" fill="#000" fill-opacity="0.05"/>
<rect x="387" y="173" width="292" height="1" fill="#000" fill-opacity="0.036"/>
<rect x="387" y="174" width="292" height="1" fill="#000" fill-opacity="0.024"/>
<rect x="387" y="175" width="292" height="1" fill="#000" fill-opacity="0.014"/>
<rect x="387" y="176" width="292" height="1" fill="#000" fill-opacity="0.006"/>
<rect x="387" y="187" width="292" height="1" fill="#000" fill-opacity="0.012"/>
<rect x="387" y="188" width="292" height="1" fill="#000" fill-opacity="0.022"/>
<rect x="387" y="189" width="292" height="1" fill="#000" fill-opacity="0.033"/>
<rect x="387" y="190" width="292" height="1" fill="#000" fill-opacity="0.046"/>
<rect x="387" y="191" width="292" height="1" fill="#000" fill-opacity="0.018"/>
<rect x="387" y="229" width="292" height="1" fill="#000" fill-opacity="0.072"/>
<rect x="387" y="230" width="292" height="1" fill="#000" fill-opacity="0.07"/>
<rect x="387" y="231" width="292" height="1" fill="#000" fill-opacity="0.068"/>
<rect x="387" y="232" width="292" height="1" fill="#000" fill-opacity="0.065"/>
<rect x="387" y="233" width="292" height="1" fill="#000" fill-opacity="0.063"/>
<rect x="387" y="234" width="292" height="1" fill="#000" fill-opacity="0.061"/>
<rect x="387" y="235" width="292" height="1" fill="#000" fill-opacity="0.059"/>
<rect x="387" y="236" width="292" height="1" fill="#000" fill-opacity="0.057"/>
<rect x="387" y="237" width="292" height="1" fill="#000" fill-opacity="0.055"/>
<rect x="387" y="238" width="292" height="1" fill="#000" fill-opacity="0.053"/>
<rect x="387" y="239" width="292" height="1" fill="#000" fill-opacity="0.051"/>
<rect x="387" y="240" width="292" height="1" fill="#000" fill-opacity="0.05"/>
<rect x="387" y="241" width="292" height="1" fill="#000" fill-opacity="0.048"/>
<rect x="387" y="242" width="292" height="1" fill="#000" fill-opacity="0.046"/>
<rect x="387" y="243" width="292" height="1" fill="#000" fill-opacity="0.044"/>
<rect x="387" y="244" width="292" height="1" fill="#000" fill-opacity="0.042"/>
<rect x="387" y="245" width="292" height="1" fill="#000" fill-opacity="0.041"/>
<rect x="387" y="246" width="292" height="1" fill="#000" fill-opacity="0.039"/>
<rect x="387" y="247" width="292" height="1" fill="#000" fill-opacity="0.037"/>
<rect x="387" y="248" width="292" height="1" fill="#000" fill-opacity="0.036"/>
<rect x="387" y="249" width="292" height="1" fill="#000" fill-opacity="0.034"/>
<rect x="387" y="250" width="292" height="1" fill="#000" fill-opacity="0.033"/>
<rect x="387" y="251" width="292" height="1" fill="#000" fill-opacity="0.031"/>
<rect x="387" y="252" width="292" height="1" fill="#000" fill-opacity="0.03"/>
<rect x="387" y="253" width="292" height="1" fill="#000" fill-opacity="0.028"/>
<rect x="387" y="254" width="292" height="1" fill="#000" fill-opacity="0.027"/>
<rect x="387" y="255" width="292" height="1" fill="#000" fill-opacity="0.026"/>
<rect x="387" y="256" width="292" height="1" fill="#000" fill-opacity="0.024"/>
<rect x="387" y="257" width="292" height="1" fill="#000" fill-opacity="0.023"/>
<rect x="387" y="258" width="292" height="1" fill="#000" fill-opacity="0.022"/>
<rect x="387" y="259" width="292" height="1" fill="#000" fill-opacity="0.021"/>
<rect x="387" y="260" width="292" height="1" fill="#000" fill-opacity="0.019"/>
<rect x="387" y="261" width="292" height="1" fill="#000" fill-opacity="0.018"/>
<rect x="387" y="262" width="292" height="1" fill="#000" fill-opacity="0.017"/>
<rect x="387" y="263" width="292" height="1" fill="#000" fill-opacity="0.016"/>
<rect x="387" y="264" width="292" height="1" fill="#000" fill-opacity="0.015"/>
<rect x="387" y="265" width="292" height="1" fill="#000" fill-opacity="0.014"/>
<rect x="387" y="266" width="292" height="1" fill="#000" fill-opacity="0.013"/>
<rect x="387" y="267" width="292" height="1" fill="#000" fill-opacity="0.012"/>
<rect x="387" y="268" width="292" height="1" fill="#000" fill-opacity="0.011"/>
<rect x="387" y="269" width="292" height="1" fill="#000" fill-opacity="0.01"/>
<rect x="387" y="270" width="292" height="2" fill="#000" fill-opacity="0.009"/>
<rect x="387" y="272" width="292" height="1" fill="#000" fill-opacity="0.008"/>
<rect x="387" y="273" width="292" height="1" fill="#000" fill-opacity="0.007"/>
<rect x="387" y="274" width="292" height="2" fill="#000" fill-opacity="0.006"/>
<rect x="387" y="276" width="292" height="2" fill="#000" fill-opacity="0.005"/>
<rect x="387" y="199" width="292" height="1" fill="#000" fill-opacity="0.6"/>
<rect x="387" y="200" width="292" height="5" fill="#000" fill-opacity="1.0"/>
<rect x="387" y="205" width="292" height="1" fill="#000" fill-opacity="0.65"/>
<rect x="387" y="3" width="1" height="291" fill="#fff" fill-opacity="0.2"/>
<rect x="678" y="3" width="1" height="291" fill="#fff" fill-opacity="0.4"/>
<rect x="387" y="293" width="292" height="1" fill="#fff" fill-opacity="0.2"/>
</g>
<g stroke="#222" stroke-width="0.75" fill="none">
<rect x="387.2" y="3.0" width="291.40" height="290.80" stroke="#444" stroke-width="0.5"/>
<path d="M387.20 293.8v3.3"/><path d="M387.20 3.0v-2.4" stroke="#777" stroke-width="0.6"/>
<path d="M460.05 293.8v3.3"/><path d="M460.05 3.0v-2.4" stroke="#777" stroke-width="0.6"/>
<path d="M532.90 293.8v3.3"/><path d="M532.90 3.0v-2.4" stroke="#777" stroke-width="0.6"/>
<path d="M605.75 293.8v3.3"/><path d="M605.75 3.0v-2.4" stroke="#777" stroke-width="0.6"/>
<path d="M678.60 293.8v3.3"/><path d="M678.60 3.0v-2.4" stroke="#777" stroke-width="0.6"/>
<path d="M387.2 3.00h-3.3"/><path d="M678.6 3.00h2.4" stroke="#777" stroke-width="0.6"/>
<path d="M387.2 32.08h-3.3"/><path d="M678.6 32.08h2.4" stroke="#777" stroke-width="0.6"/>
<path d="M387.2 61.16h-3.3"/><path d="M678.6 61.16h2.4" stroke="#777" stroke-width="0.6"/>
<path d="M387.2 90.24h-3.3"/><path d="M678.6 90.24h2.4" stroke="#777" stroke-width="0.6"/>
<path d="M387.2 119.32h-3.3"/><path d="M678.6 119.32h2.4" stroke="#777" stroke-width="0.6"/>
<path d="M387.2 148.40h-3.3"/><path d="M678.6 148.40h2.4" stroke="#777" stroke-width="0.6"/>
<path d="M387.2 177.48h-3.3"/><path d="M678.6 177.48h2.4" stroke="#777" stroke-width="0.6"/>
<path d="M387.2 206.56h-3.3"/><path d="M678.6 206.56h2.4" stroke="#777" stroke-width="0.6"/>
<path d="M387.2 235.64h-3.3"/><path d="M678.6 235.64h2.4" stroke="#777" stroke-width="0.6"/>
<path d="M387.2 264.72h-3.3"/><path d="M678.6 264.72h2.4" stroke="#777" stroke-width="0.6"/>
<path d="M387.2 293.80h-3.3"/><path d="M678.6 293.80h2.4" stroke="#777" stroke-width="0.6"/>
</g>
<g style="font-family:&quot;Liberation Sans&quot;,Arial,Helvetica,sans-serif" font-size="9.2" fill="#111" stroke="#111" stroke-width="0.15">
<text x="387.20" y="309.9" text-anchor="middle">0.6</text>
<text x="460.05" y="309.9" text-anchor="middle">0.65</text>
<text x="532.90" y="309.9" text-anchor="middle">0.7</text>
<text x="605.75" y="309.9" text-anchor="middle">0.75</text>
<text x="678.60" y="309.9" text-anchor="middle">0.8</text>
<text x="380.7" y="6.89" text-anchor="end">0.8</text>
<text x="380.7" y="35.97" text-anchor="end">0.78</text>
<text x="380.7" y="65.05" text-anchor="end">0.76</text>
<text x="380.7" y="94.13" text-anchor="end">0.74</text>
<text x="380.7" y="123.21" text-anchor="end">0.72</text>
<text x="380.7" y="152.29" text-anchor="end">0.7</text>
<text x="380.7" y="181.37" text-anchor="end">0.68</text>
<text x="380.7" y="210.45" text-anchor="end">0.66</text>
<text x="380.7" y="239.53" text-anchor="end">0.64</text>
<text x="380.7" y="268.61" text-anchor="end">0.62</text>
<text x="380.7" y="297.69" text-anchor="end">0.6</text>
<text x="532.5" y="322.9" text-anchor="middle">x</text>
<text transform="translate(358.0,148.6) rotate(-90)" text-anchor="middle">y</text>
</g>
<g style="font-family:&quot;Liberation Serif&quot;,&quot;Times New Roman&quot;,serif" font-size="22.5" fill="#111">
<text x="82.0" y="352.6" textLength="28.5" lengthAdjust="spacingAndGlyphs">(a)</text>
<text x="121.3" y="352.0" textLength="11.6" lengthAdjust="spacingAndGlyphs" font-style="italic" font-size="21">β</text>
<text x="140.7" y="354.5" textLength="17.8" lengthAdjust="spacingAndGlyphs">=</text>
<text x="167.0" y="353.8" textLength="16.4" lengthAdjust="spacingAndGlyphs">−</text>
<text x="185.0" y="352.6" textLength="66.5" lengthAdjust="spacingAndGlyphs">3.3024</text>
</g>
<g style="font-family:&quot;Liberation Serif&quot;,&quot;Times New Roman&quot;,serif" font-size="22.5" fill="#111">
<text x="443.5" y="352.6" textLength="29.2" lengthAdjust="spacingAndGlyphs">(b)</text>
<text x="483.4" y="352.0" textLength="11.6" lengthAdjust="spacingAndGlyphs" font-style="italic" font-size="21">β</text>
<text x="503.4" y="354.5" textLength="17.8" lengthAdjust="spacingAndGlyphs">=</text>
<text x="529.0" y="352.6" textLength="66.5" lengthAdjust="spacingAndGlyphs">3.3024</text>
</g>
</svg></body></html>
